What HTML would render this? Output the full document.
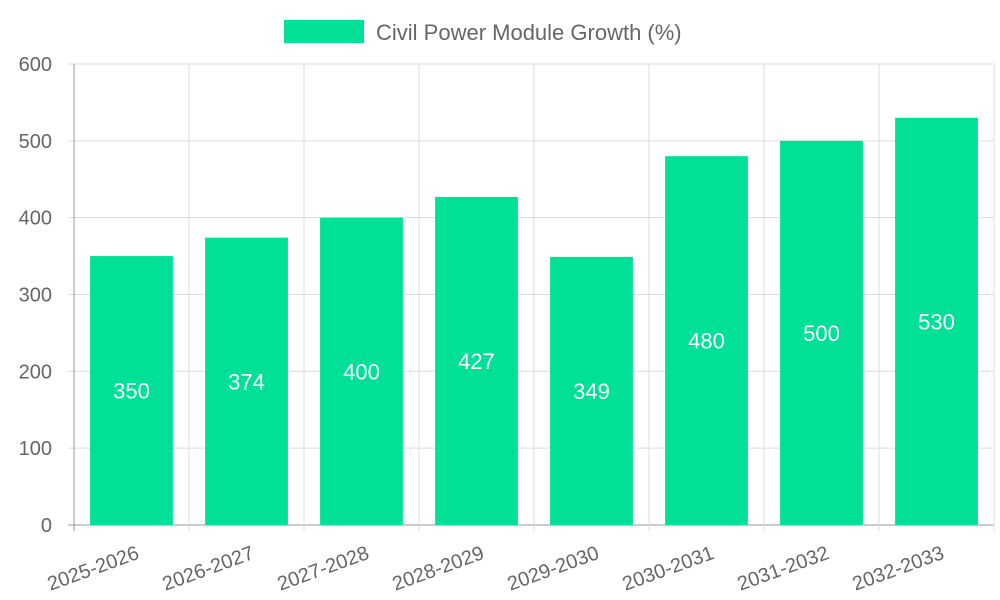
<!DOCTYPE html>
<html><head><meta charset="utf-8"><style>
body{margin:0;background:#fff}
svg{display:block;font-family:"Liberation Sans",sans-serif}
</style></head><body>
<svg id="chart" width="1000" height="600">
<rect x="284" y="20" width="80" height="23" fill="#00e096"/>
<text x="376" y="40" font-size="22" fill="#666">Civil Power Module Growth (%)</text>
<g id="grid"></g><g id="bars"></g><g id="axes"></g>
</svg>
<script>
const categories=["2025-2026","2026-2027","2027-2028","2028-2029","2029-2030","2030-2031","2031-2032","2032-2033"];
const values=[350,374,400,427,349,480,500,530];
const yTicks=[0,100,200,300,400,500,600];
const ns="http://www.w3.org/2000/svg";
const L=74,R=994,T=64,B=525,yMax=600;
const bw=(R-L)/categories.length;
const y=v=>B-(v/yMax)*(B-T);
const x=i=>L+i*bw;
function mk(tag,attrs,parent,txt){const e=document.createElementNS(ns,tag);for(const k in attrs)e.setAttribute(k,attrs[k]);if(txt!==undefined)e.textContent=txt;document.getElementById(parent).appendChild(e);return e;}
yTicks.forEach(t=>{
 const g=mk("line",{x1:L-6,x2:R,y1:y(t),y2:y(t),stroke:t===0?"#999":"#ddd","stroke-width":1},"grid");
 
 
 const lb=mk("text",{x:L-22,y:y(t)+7,"font-size":20,fill:"#666","text-anchor":"end"},"axes",String(t));
 
 
});
for(let i=0;i<=categories.length;i++){
 const g=mk("line",{x1:x(i),x2:x(i),y1:T,y2:B+6,stroke:i===0?"#999":"#ddd","stroke-width":1},"grid");
 
 
}
categories.forEach((c,i)=>{
 const cx=x(i)+bw/2, w=bw*0.72;
 const r=mk("rect",{x:cx-w/2,y:y(values[i]),width:w,height:B-y(values[i]),fill:"#00e096"},"bars");
 
 
 const v=mk("text",{x:cx,y:(y(values[i])+B)/2+8,"font-size":22,fill:"#fff","text-anchor":"middle"},"bars",String(values[i]));
 
 
 const xl=mk("text",{x:cx+4,y:B+20,"font-size":20,fill:"#666","text-anchor":"end",transform:`rotate(-20 ${cx+4} ${B+20})`,dy:"0.7em"},"axes",c);
 
 
});
</script>
</body></html>
